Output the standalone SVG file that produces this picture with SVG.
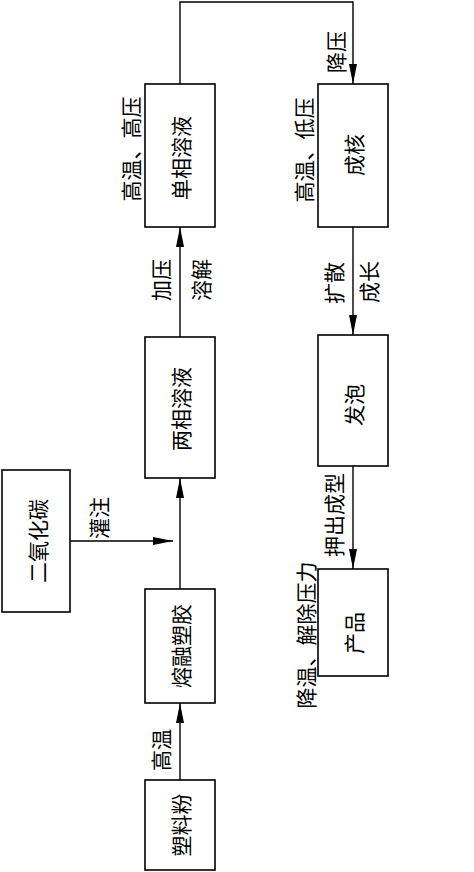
<svg xmlns="http://www.w3.org/2000/svg" width="474" height="872" viewBox="0 0 474 872">
<style>
.box{fill:#fff;stroke:#000;stroke-width:1.6}
.ln{fill:none;stroke:#000;stroke-width:1.4}
text{font-family:"Noto Sans CJK SC","Noto Sans",sans-serif;font-size:21px;fill:#000;text-anchor:middle;dominant-baseline:central}
</style>
<defs>
<marker id="ah" viewBox="0 0 20 8" refX="20" refY="4" markerWidth="20" markerHeight="8" markerUnits="userSpaceOnUse" orient="auto">
<path d="M0,0 L20,4 L0,8 Z" fill="#000"/>
</marker>
</defs>
<rect width="474" height="872" fill="#fff"/>
<g id="connectors">
<line class="ln" x1="180" y1="780" x2="180" y2="703" marker-end="url(#ah)"/>
<line class="ln" x1="180" y1="589" x2="180" y2="478" marker-end="url(#ah)"/>
<line class="ln" x1="70" y1="541" x2="173" y2="541" marker-end="url(#ah)"/>
<line class="ln" x1="180" y1="337" x2="180" y2="227" marker-end="url(#ah)"/>
<polyline class="ln" points="180,84 180,2 353,2 353,84" marker-end="url(#ah)"/>
<line class="ln" x1="353" y1="227" x2="353" y2="335" marker-end="url(#ah)"/>
<line class="ln" x1="353" y1="466" x2="353" y2="569" marker-end="url(#ah)"/>
<text transform="translate(160,750) rotate(-90)">高温</text>
<text transform="translate(98,518) rotate(-90)">灌注</text>
<text transform="translate(160,280) rotate(-90)">加压</text>
<text transform="translate(200,280) rotate(-90)">溶解</text>
<text transform="translate(130,149) rotate(-90)">高温、高压</text>
<text transform="translate(335,52) rotate(-90)">降压</text>
<text transform="translate(303,150) rotate(-90)">高温、低压</text>
<text transform="translate(333,283) rotate(-90)">扩散</text>
<text transform="translate(368,282) rotate(-90)">成长</text>
<text transform="translate(333,515) rotate(-90)">押出成型</text>
<text transform="translate(305,635) rotate(-90)">降温、解除压力</text>
</g>
<g id="n-co2">
<rect class="box" x="2" y="470" width="68" height="142"/>
<text transform="translate(37,541) rotate(-90)">二氧化碳</text>
</g>
<g id="n-powder">
<rect class="box" x="145" y="780" width="70" height="90"/>
<text transform="translate(180,825) rotate(-90)">塑料粉</text>
</g>
<g id="n-melt">
<rect class="box" x="145" y="589" width="70" height="114"/>
<text transform="translate(180,646) rotate(-90)">熔融塑胶</text>
</g>
<g id="n-twophase">
<rect class="box" x="145" y="337" width="70" height="141"/>
<text transform="translate(180,409) rotate(-90)">两相溶液</text>
</g>
<g id="n-singlephase">
<rect class="box" x="145" y="84" width="70" height="143"/>
<text transform="translate(180,158) rotate(-90)">单相溶液</text>
</g>
<g id="n-nucleation">
<rect class="box" x="318" y="84" width="70" height="143"/>
<text transform="translate(353,155) rotate(-90)">成核</text>
</g>
<g id="n-foam">
<rect class="box" x="318" y="335" width="70" height="131"/>
<text transform="translate(353,405) rotate(-90)">发泡</text>
</g>
<g id="n-product">
<rect class="box" x="318" y="569" width="70" height="107"/>
<text transform="translate(353,633) rotate(-90)">产品</text>
</g>
</svg>
